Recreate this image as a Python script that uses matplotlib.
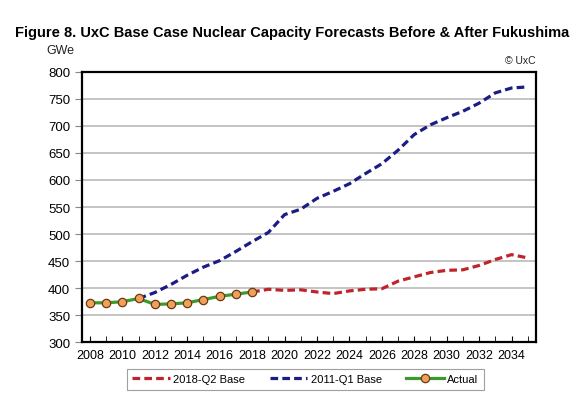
import numpy as np
import matplotlib
matplotlib.use('Agg')
import matplotlib.pyplot as plt

plt.rcParams['font.family'] = ['Liberation Sans', 'DejaVu Sans']

years_actual = np.arange(2008, 2019)
actual = [373, 373, 375, 381, 370, 371, 373, 379, 385, 389, 393]

years_2011 = np.arange(2011, 2036)
base_2011q1 = [381, 392, 407, 424, 439, 451, 468, 486, 503, 536, 546, 566, 579, 593,
               612, 630, 655, 684, 702, 715, 727, 742, 761, 770, 772]

years_2018 = np.arange(2018, 2036)
base_2018q2 = [393, 398, 396, 397, 393, 390, 395, 398, 399, 413, 421, 429, 433, 434,
               442, 453, 462, 456]

year_ticks = np.arange(2008, 2036, 2)

fig = plt.figure(figsize=(5.85, 4.02), dpi=100)
ax = fig.add_axes([0.14, 0.146, 0.776, 0.673])

red = '#C0232B'
blue = '#1C1C86'
green = '#3C9A2C'

ax.plot(years_2018, base_2018q2, color=red, lw=2.3, dashes=(2.4, 1.3), label='2018-Q2 Base', zorder=3)
ax.plot(years_2011, base_2011q1, color=blue, lw=2.3, dashes=(2.4, 1.3), label='2011-Q1 Base', zorder=3)
ax.plot(years_actual, actual, color=green, lw=2.3, marker='o', markersize=6,
        markerfacecolor='#F0A05A', markeredgecolor='#6A3A10', markeredgewidth=0.9,
        label='Actual', zorder=4)

ax.set_xlim(2007.5, 2035.5)
ax.set_ylim(300, 800)
ax.set_yticks(np.arange(300, 801, 50))
ax.set_xticks(year_ticks)
ax.set_xticks(np.arange(2008, 2036), minor=True)
ax.tick_params(axis='x', which='both', direction='in', length=4, labelsize=9, pad=5)
ax.tick_params(axis='y', direction='out', length=5, labelsize=9.5, color='#888888')
ax.yaxis.grid(True, color='#B4B4B4', lw=1.1)
ax.set_axisbelow(True)
for s in ax.spines.values():
    s.set_linewidth(1.6)

fig.text(0.5, 0.917, 'Figure 8. UxC Base Case Nuclear Capacity Forecasts Before & After Fukushima',
         ha='center', va='center', fontsize=10.5, fontweight='bold')
fig.text(0.08, 0.873, 'GWe', ha='left', va='center', fontsize=9, color='#222222')
fig.text(0.915, 0.848, '© UxC', ha='right', va='center', fontsize=7.5, color='#222222')

leg = fig.legend(loc='center', bbox_to_anchor=(0.522, 0.054), ncol=3, fontsize=8,
                 frameon=True, fancybox=False, edgecolor='#888888', handlelength=3.4,
                 columnspacing=2.2, handletextpad=0.3, borderpad=0.5)
leg.get_frame().set_linewidth(0.8)

fig.savefig('out.png', dpi=100)
